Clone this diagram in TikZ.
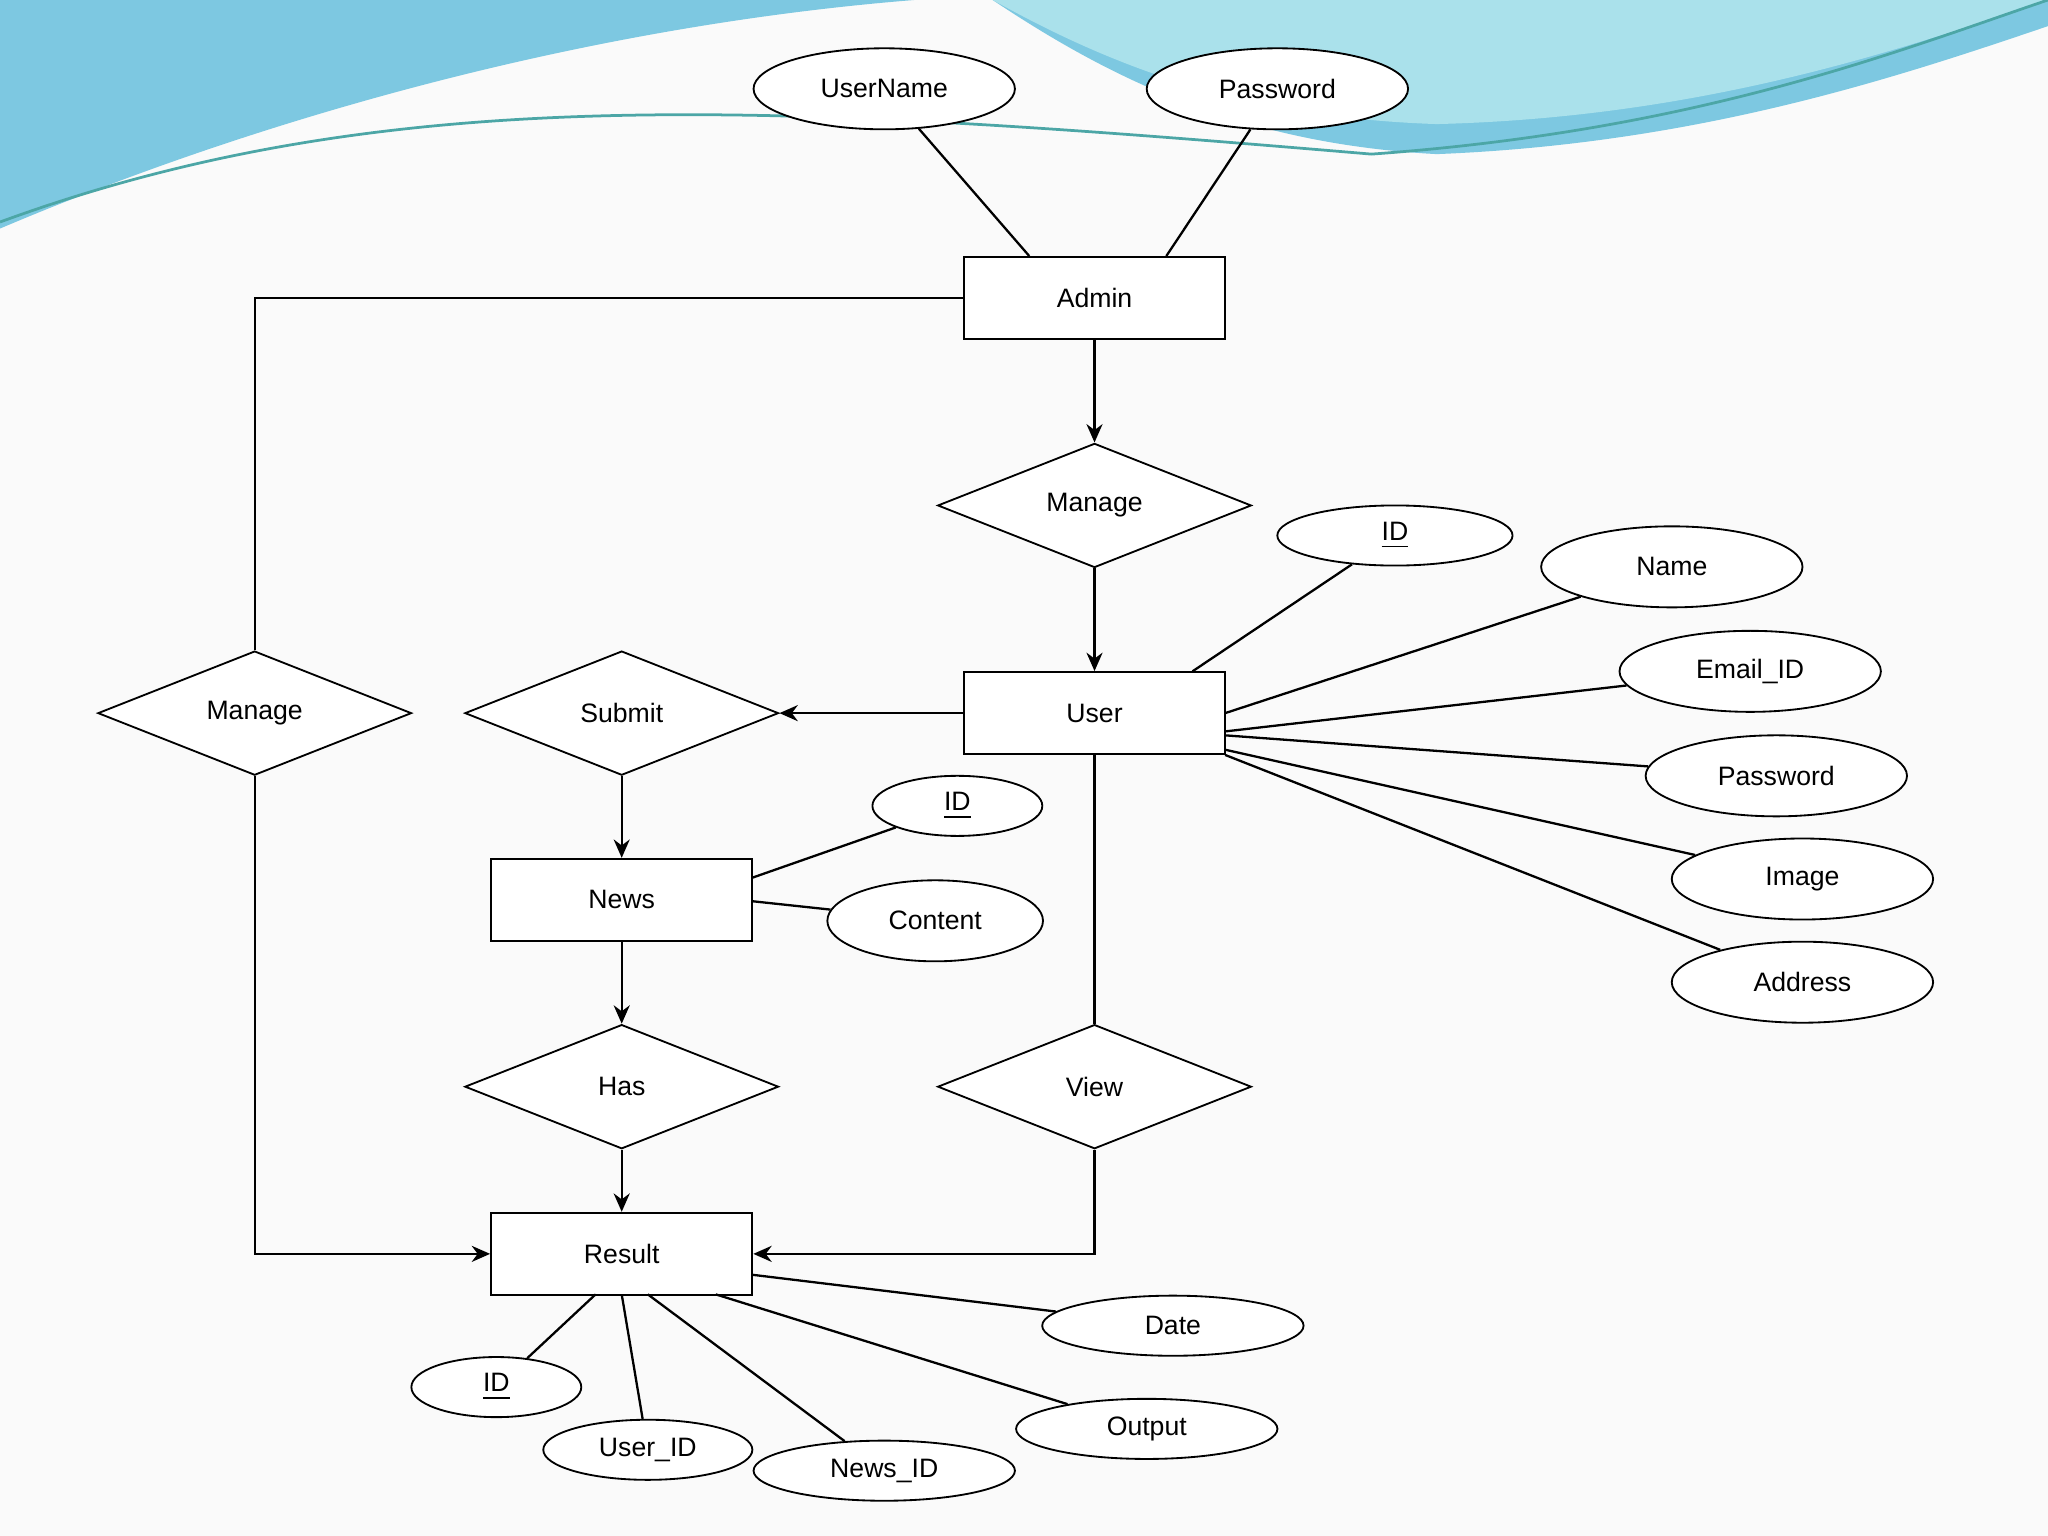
\documentclass[tikz,border=0pt]{standalone}
\usepackage{fontspec}
\setmainfont{Liberation Sans}
\usetikzlibrary{shapes,arrows.meta,positioning}
\definecolor{wave}{RGB}{125,200,225}
\definecolor{wavelight}{RGB}{170,225,235}

\begin{document}
\begin{tikzpicture}[
    x=0.01cm, y=-0.01cm,
    font=\fontsize{5.8}{7}\selectfont,
    entity/.style={
        rectangle,
        draw,
        fill=white,
        minimum width=2cm,
        minimum height=0.63cm
    },
    rel/.style={
        diamond,
        draw,
        fill=white,
        aspect=2.5,
        minimum width=2.4cm,
        minimum height=0.95cm,
        inner sep=0pt
    },
    attr/.style={
        ellipse,
        draw,
        fill=white,
        minimum width=2cm,
        minimum height=0.62cm,
        inner sep=0pt
    },
    key/.style={
        attr,
        minimum height=0.46cm
    },
    line/.style={
        draw,
        line width=0.5pt
    },
    arr/.style={
        line,
        -{Stealth[length=4pt,width=3.5pt]}
    }
]
    % Frame and background
    \useasboundingbox (0,0) rectangle (1568,1176);
    \fill[gray!4] (0,0) rectangle (1568,1176);
    \fill[wave] (0,175) .. controls (200,90) and (450,20) .. (700,0)
        -- (760,0) .. controls (850,60) and (950,110) .. (1100,118)
        .. controls (1300,110) and (1450,60) .. (1568,20) -- (1568,0) -- (0,0) -- cycle;
    \fill[wavelight] (760,0) .. controls (850,50) and (950,90) .. (1100,95)
        .. controls (1300,90) and (1450,40) .. (1568,0) -- cycle;
    \draw[teal!70, line width=0.6pt] (0,170) .. controls (300,60) and (600,80) .. (1050,118)
        .. controls (1300,100) and (1450,40) .. (1568,0);

    % Entities
    \node [entity] (admin) at (838,228) {Admin};
    \node [entity] (user) at (838,546) {User};
    \node [entity] (news) at (476,689) {News};
    \node [entity] (result) at (476,960) {Result};

    % Relationships
    \node [rel] (manage) at (838,387) {Manage};
    \node [rel] (submit) at (476,546) {Submit};
    \node [rel] (manage2) at (195,546) {Manage};
    \node [rel] (has) at (476,832) {Has};
    \node [rel] (view) at (838,832) {View};

    % Attributes
    \node [attr] (aname) at (677,68) {UserName};
    \node [attr] (apass) at (978,68) {Password};
    \node [key, minimum width=1.8cm] (uid) at (1068,410) {\underline{ID}};
    \node [attr] (uname) at (1280,434) {Name};
    \node [attr] (umail) at (1340,514) {Email\_ID};
    \node [attr] (upass) at (1360,594) {Password};
    \node [attr] (uimg) at (1380,673) {Image};
    \node [attr] (uaddr) at (1380,752) {Address};
    \node [key, minimum width=1.3cm] (nid) at (733,617) {\underline{ID}};
    \node [attr, minimum width=1.65cm] (ncont) at (716,705) {Content};
    \node [attr, minimum height=0.46cm] (rdate) at (898,1015) {Date};
    \node [attr, minimum height=0.46cm] (rout) at (878,1094) {Output};
    \node [key, minimum width=1.3cm] (rid) at (380,1062) {\underline{ID}};
    \node [attr, minimum width=1.6cm, minimum height=0.46cm] (ruid) at (496,1110) {User\_ID};
    \node [attr, minimum height=0.46cm] (rnid) at (677,1126) {News\_ID};

    % Edges
    \path [line] (aname) -- (788,196);
    \path [line] (apass) -- (893,196);
    \path [arr] (admin) -- (manage);
    \path [arr] (manage) -- (user);
    \path [arr] (user) -- (submit);
    \path [arr] (submit) -- (news);
    \path [arr] (news) -- (has);
    \path [arr] (has) -- (result);
    \path [line] (user) -- (view);
    \path [arr] (view.south) |- (result.east);
    \path [line] (admin.west) -| (manage2.north);
    \path [arr] (manage2.south) |- (result.west);

    \path [line] (913,514) -- (uid);
    \path [line] (938,546) -- (uname);
    \path [line] (938,560) -- (umail);
    \path [line] (938,563) -- (upass);
    \path [line] (938,574) -- (uimg);
    \path [line] (938,578) -- (uaddr);
    \path [line] (576,672) -- (nid);
    \path [line] (576,690) -- (ncont);
    \path [line] (576,976) -- (rdate);
    \path [line] (548,991) -- (rout);
    \path [line] (456,991) -- (rid);
    \path [line] (476,991) -- (ruid);
    \path [line] (496,991) -- (rnid);
\end{tikzpicture}
\end{document}
